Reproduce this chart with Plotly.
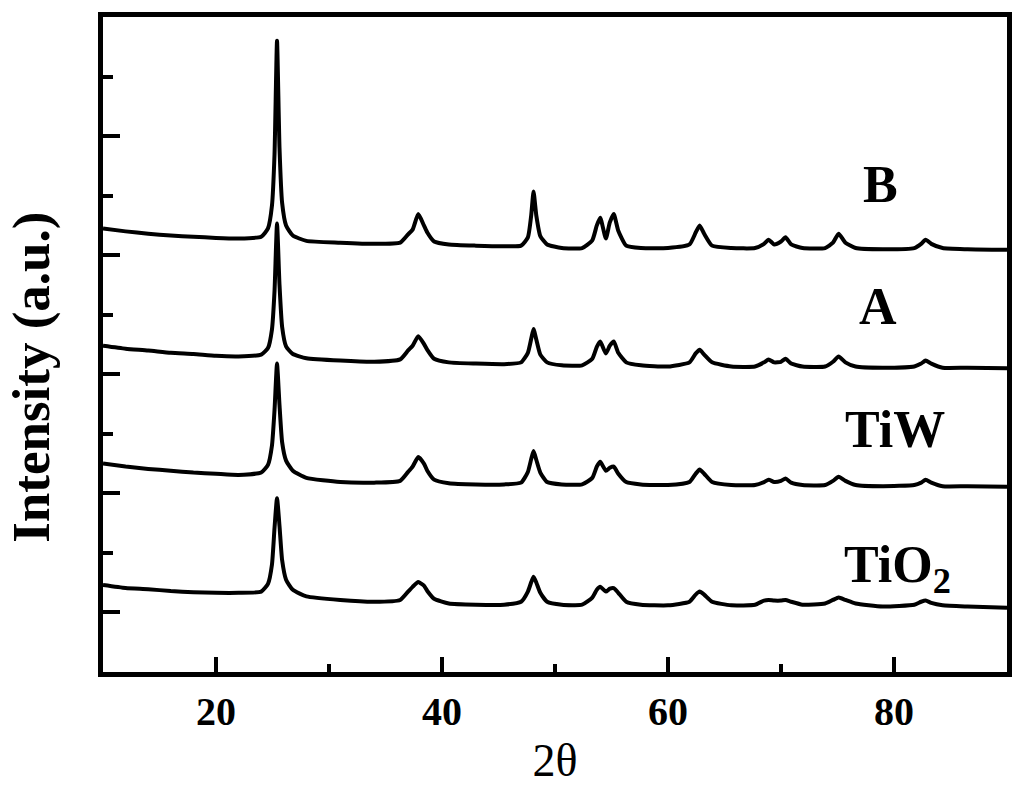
import plotly.graph_objs as go

# 2-theta sampling points (deg), denser around the anatase reflections
two_theta = [10, 12, 14, 16, 18, 20, 22, 24.0, 24.6, 24.95, 25.18, 25.4, 25.62, 25.85, 26.2, 26.8,
             28, 31, 34, 36.3, 37.0, 37.4, 37.9, 38.4, 38.7, 39.3, 40.6, 43, 45.5,
             47.0, 47.6, 47.9, 48.1, 48.35, 48.7, 49.3, 50.6, 52.4,
             53.3, 53.7, 54.0, 54.5, 54.85, 55.2, 55.6, 56.3, 57.6, 60,
             61.9, 62.45, 62.8, 63.2, 63.9, 65.6, 67.7,
             68.5, 68.9, 69.4, 70.0, 70.4, 70.9, 71.9, 73.9,
             74.6, 75.1, 75.7, 76.6, 79, 81.8, 82.4, 82.8, 83.3, 84.3, 86.5, 90]

# stacked intensities (a.u.)
int_B = [7.45, 7.40, 7.36, 7.33, 7.31, 7.29, 7.28, 7.31, 7.45, 7.83, 8.70, 10.60, 8.80, 7.88, 7.50, 7.33,
         7.24, 7.21, 7.19, 7.21, 7.35, 7.43, 7.69, 7.50, 7.38, 7.23, 7.18, 7.16, 7.15,
         7.16, 7.30, 7.68, 8.07, 7.66, 7.32, 7.18, 7.12, 7.12,
         7.25, 7.50, 7.63, 7.28, 7.55, 7.69, 7.41, 7.16, 7.12, 7.12,
         7.18, 7.38, 7.50, 7.36, 7.16, 7.12, 7.12,
         7.19, 7.26, 7.18, 7.23, 7.30, 7.18, 7.12, 7.12,
         7.21, 7.36, 7.21, 7.12, 7.10, 7.12, 7.19, 7.26, 7.19, 7.12, 7.10, 7.09]

int_A = [5.48, 5.43, 5.40, 5.36, 5.34, 5.31, 5.30, 5.33, 5.44, 5.75, 6.40, 7.53, 6.50, 5.80, 5.47, 5.34,
         5.27, 5.23, 5.21, 5.25, 5.40, 5.48, 5.64, 5.51, 5.41, 5.26, 5.20, 5.18, 5.17,
         5.20, 5.36, 5.60, 5.76, 5.58, 5.33, 5.20, 5.15, 5.15,
         5.26, 5.46, 5.55, 5.35, 5.48, 5.55, 5.36, 5.20, 5.15, 5.13,
         5.20, 5.35, 5.41, 5.33, 5.20, 5.13, 5.13,
         5.20, 5.25, 5.20, 5.21, 5.26, 5.18, 5.13, 5.13,
         5.21, 5.30, 5.20, 5.13, 5.11, 5.13, 5.18, 5.23, 5.18, 5.11, 5.11, 5.10]

int_TiW = [3.50, 3.45, 3.41, 3.38, 3.35, 3.33, 3.31, 3.35, 3.48, 3.80, 4.40, 5.18, 4.48, 3.86, 3.55, 3.38,
           3.26, 3.19, 3.18, 3.21, 3.36, 3.45, 3.61, 3.50, 3.38, 3.23, 3.17, 3.15, 3.15,
           3.18, 3.36, 3.58, 3.71, 3.56, 3.35, 3.19, 3.15, 3.15,
           3.26, 3.45, 3.53, 3.38, 3.43, 3.45, 3.33, 3.19, 3.15, 3.14,
           3.19, 3.33, 3.40, 3.33, 3.19, 3.14, 3.14,
           3.19, 3.23, 3.19, 3.21, 3.25, 3.18, 3.14, 3.14,
           3.21, 3.28, 3.21, 3.14, 3.12, 3.14, 3.18, 3.23, 3.18, 3.12, 3.12, 3.11]

int_TiO2 = [1.46, 1.41, 1.39, 1.36, 1.34, 1.33, 1.33, 1.35, 1.48, 1.80, 2.42, 2.92, 2.45, 1.88, 1.55, 1.38,
            1.27, 1.21, 1.18, 1.21, 1.35, 1.43, 1.51, 1.45, 1.36, 1.23, 1.15, 1.13, 1.13,
            1.18, 1.35, 1.51, 1.60, 1.50, 1.33, 1.18, 1.13, 1.13,
            1.25, 1.38, 1.43, 1.35, 1.40, 1.41, 1.33, 1.18, 1.13, 1.12,
            1.18, 1.30, 1.35, 1.30, 1.18, 1.12, 1.13,
            1.20, 1.21, 1.20, 1.20, 1.21, 1.18, 1.13, 1.15,
            1.21, 1.25, 1.21, 1.15, 1.10, 1.13, 1.18, 1.20, 1.16, 1.12, 1.10, 1.08]

names = ["B", "A", "TiW", "TiO<sub>2</sub>"]
curves = [int_B, int_A, int_TiW, int_TiO2]

FONT = "Liberation Serif, Times New Roman, serif"

data = []
for i in range(len(names)):
    trace = go.Scatter(x = two_theta, y = curves[i], mode = "lines", name = names[i],
                       line = dict(color = "black", width = 4, shape = "spline", smoothing = 0.5),
                       showlegend = False)
    data.append(trace)

# curve labels, right side
label_pos = [(78.8, 8.19), (78.6, 6.13), (80.1, 4.07), (80.3, 1.73)]
annotations = []
for i in range(len(names)):
    annotations.append(dict(x = label_pos[i][0], y = label_pos[i][1], xref = "x", yref = "y",
                            text = names[i], showarrow = False,
                            font = dict(family = FONT, size = 52, color = "black", weight = "bold")))

# y title sits a bit below the middle of the axis in the original, so it is an annotation
annotations.append(dict(x = -0.079, y = 0.45, xref = "paper", yref = "paper", textangle = -90,
                        text = "Intensity (a.u.)", showarrow = False, xanchor = "center", yanchor = "middle",
                        font = dict(family = FONT, size = 53, color = "black", weight = "bold")))

layout = go.Layout(
    width = 1024, height = 790,
    margin = dict(l = 103, r = 17, t = 13, b = 112),
    paper_bgcolor = "white", plot_bgcolor = "white",
    xaxis = dict(range = [10, 90], tick0 = 0, dtick = 20, ticks = "inside", ticklen = 15, tickwidth = 4,
                 tickcolor = "black", showline = True, linecolor = "black", linewidth = 5, mirror = True,
                 showgrid = False, zeroline = False,
                 tickfont = dict(family = FONT, size = 40, color = "black", weight = "bold"),
                 minor = dict(dtick = 10, tick0 = 0, ticks = "inside", ticklen = 8, tickwidth = 4, tickcolor = "black"),
                 title = dict(text = "2θ", standoff = 12, font = dict(family = FONT, size = 46, color = "black"))),
    yaxis = dict(range = [0, 11], tick0 = 1, dtick = 2, ticks = "inside", ticklen = 17, tickwidth = 4,
                 tickcolor = "black", showline = True, linecolor = "black", linewidth = 5, mirror = True,
                 showgrid = False, zeroline = False, showticklabels = False,
                 minor = dict(dtick = 1, tick0 = 0, ticks = "inside", ticklen = 10, tickwidth = 4, tickcolor = "black")),
    annotations = annotations,
)

fig = go.Figure(data = data, layout = layout)
# the page's default body margin would push the figure off by 8 px
fig.write_html("out.html", config = {"displayModeBar": False},
               post_script = "document.body.style.margin = '0';")
